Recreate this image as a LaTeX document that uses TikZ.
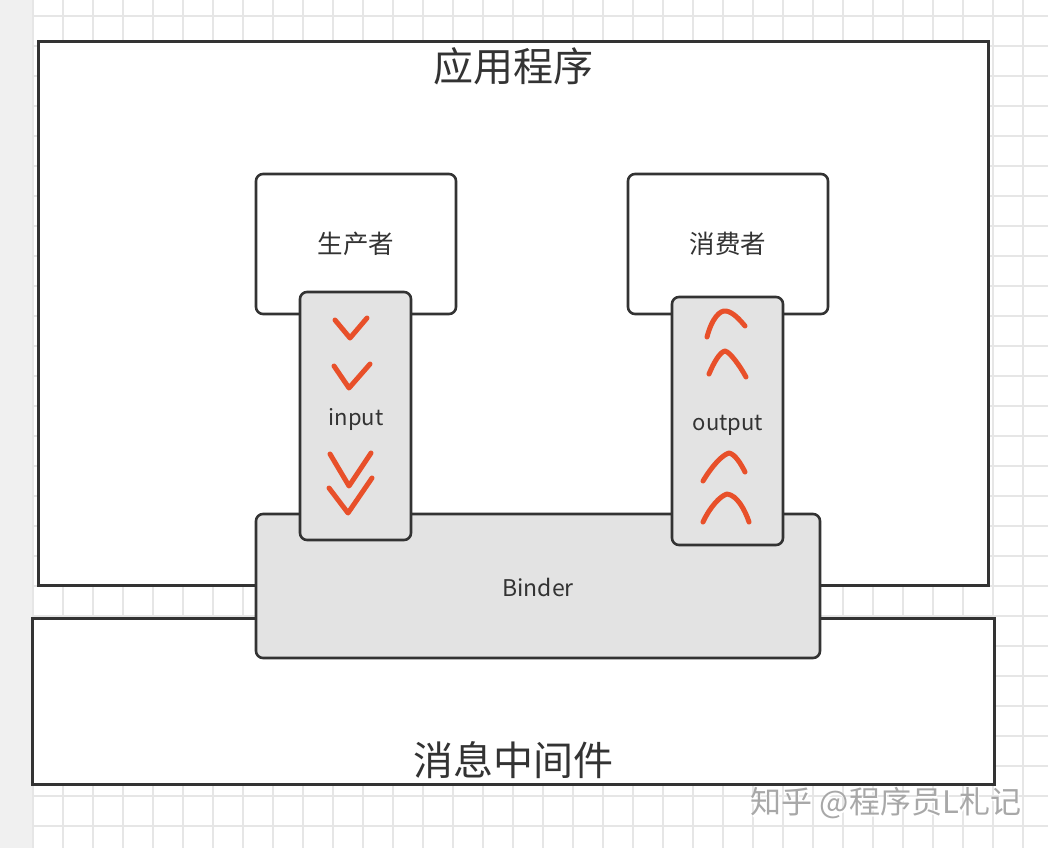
\documentclass[tikz,border=0pt]{standalone}
\usepackage{fontspec}
\setmainfont{Noto Sans CJK SC}
\definecolor{gridc}{HTML}{E6E6E6}
\definecolor{stripc}{HTML}{F0F0F0}
\definecolor{edge}{HTML}{333333}
\definecolor{boxgray}{HTML}{E3E3E3}
\definecolor{chev}{HTML}{E8502A}
\definecolor{txt}{HTML}{333333}
\definecolor{wm}{HTML}{A8A8A8}
\begin{document}
\begin{tikzpicture}[x=1pt,y=-1pt,
  bigbox/.style={draw=edge,line width=3pt,fill=white},
  roundbox/.style={draw=edge,line width=2.6pt,rounded corners=7pt},
  chevron/.style={draw=chev,line width=5pt,line cap=round,line join=round},
  lbl/.style={text=txt,inner sep=0pt}]
\useasboundingbox (0,0) rectangle (1048,848);
\fill[white] (0,0) rectangle (1048,848);
\fill[stripc] (0,0) rectangle (33,848);
\foreach \i in {0,...,34} {\draw[gridc,line width=1.2pt] (33+30*\i,0) -- (33+30*\i,848);}
\foreach \j in {0,...,28} {\draw[gridc,line width=1.2pt] (33,16+30*\j) -- (1048,16+30*\j);}
% big boxes
\draw[bigbox] (38,42) rectangle (988,585);
\node[lbl,font=\fontsize{40}{42}\selectfont] (app) at (513,66) {应用程序};
\draw[bigbox] (32,618) rectangle (994,784);
\node[lbl,font=\fontsize{40}{42}\selectfont] (mq) at (513,760) {消息中间件};
% binder
\draw[roundbox,fill=boxgray] (256,514) rectangle (820,658);
\node[lbl,font=\fontsize{23}{26}\selectfont] (binder) at (538,587) {Binder};
% producer / consumer
\draw[roundbox,fill=white] (256,174) rectangle (456,314);
\node[lbl,font=\fontsize{25.5}{28}\selectfont] (prod) at (356,244) {生产者};
\draw[roundbox,fill=white] (628,174) rectangle (828,314);
\node[lbl,font=\fontsize{25.5}{28}\selectfont] (cons) at (728,244) {消费者};
% input / output
\draw[roundbox,fill=boxgray] (300,292) rectangle (411,540);
\node[lbl,font=\fontsize{22}{25}\selectfont] (in) at (356,419) {input};
\draw[roundbox,fill=boxgray] (672,297) rectangle (783,545);
\node[lbl,font=\fontsize{22}{25}\selectfont] (out) at (728,425) {output};
% input chevrons
\draw[chevron] (335,320) -- (350,338) -- (367,318);
\draw[chevron] (334,366) -- (349,388) -- (370,364);
\draw[chevron] (330,454) -- (349,486) -- (371,453);
\draw[chevron] (329,488) -- (348,513) -- (372,478);
% output chevrons
\draw[chevron] (707,337) .. controls (712,318) and (720,310) .. (726,311) .. controls (733,312) and (740,320) .. (745,326);
\draw[chevron] (709,374) .. controls (714,362) and (720,352) .. (725,351) .. controls (730,352) and (740,366) .. (746,377);
\draw[chevron] (703,481) .. controls (712,466) and (722,455) .. (729,453) .. controls (735,454) and (741,464) .. (745,472);
\draw[chevron] (703,522) .. controls (710,507) and (720,496) .. (727,494) .. controls (737,495) and (745,510) .. (749,522);
% watermark
\node[lbl,text=white,font=\fontsize{31}{32}\selectfont] at (887,805) {知乎 @程序员L札记};
\node[lbl,text=wm,font=\fontsize{31}{32}\selectfont] (wmark) at (886,803) {知乎 @程序员L札记};
\end{tikzpicture}
\end{document}
